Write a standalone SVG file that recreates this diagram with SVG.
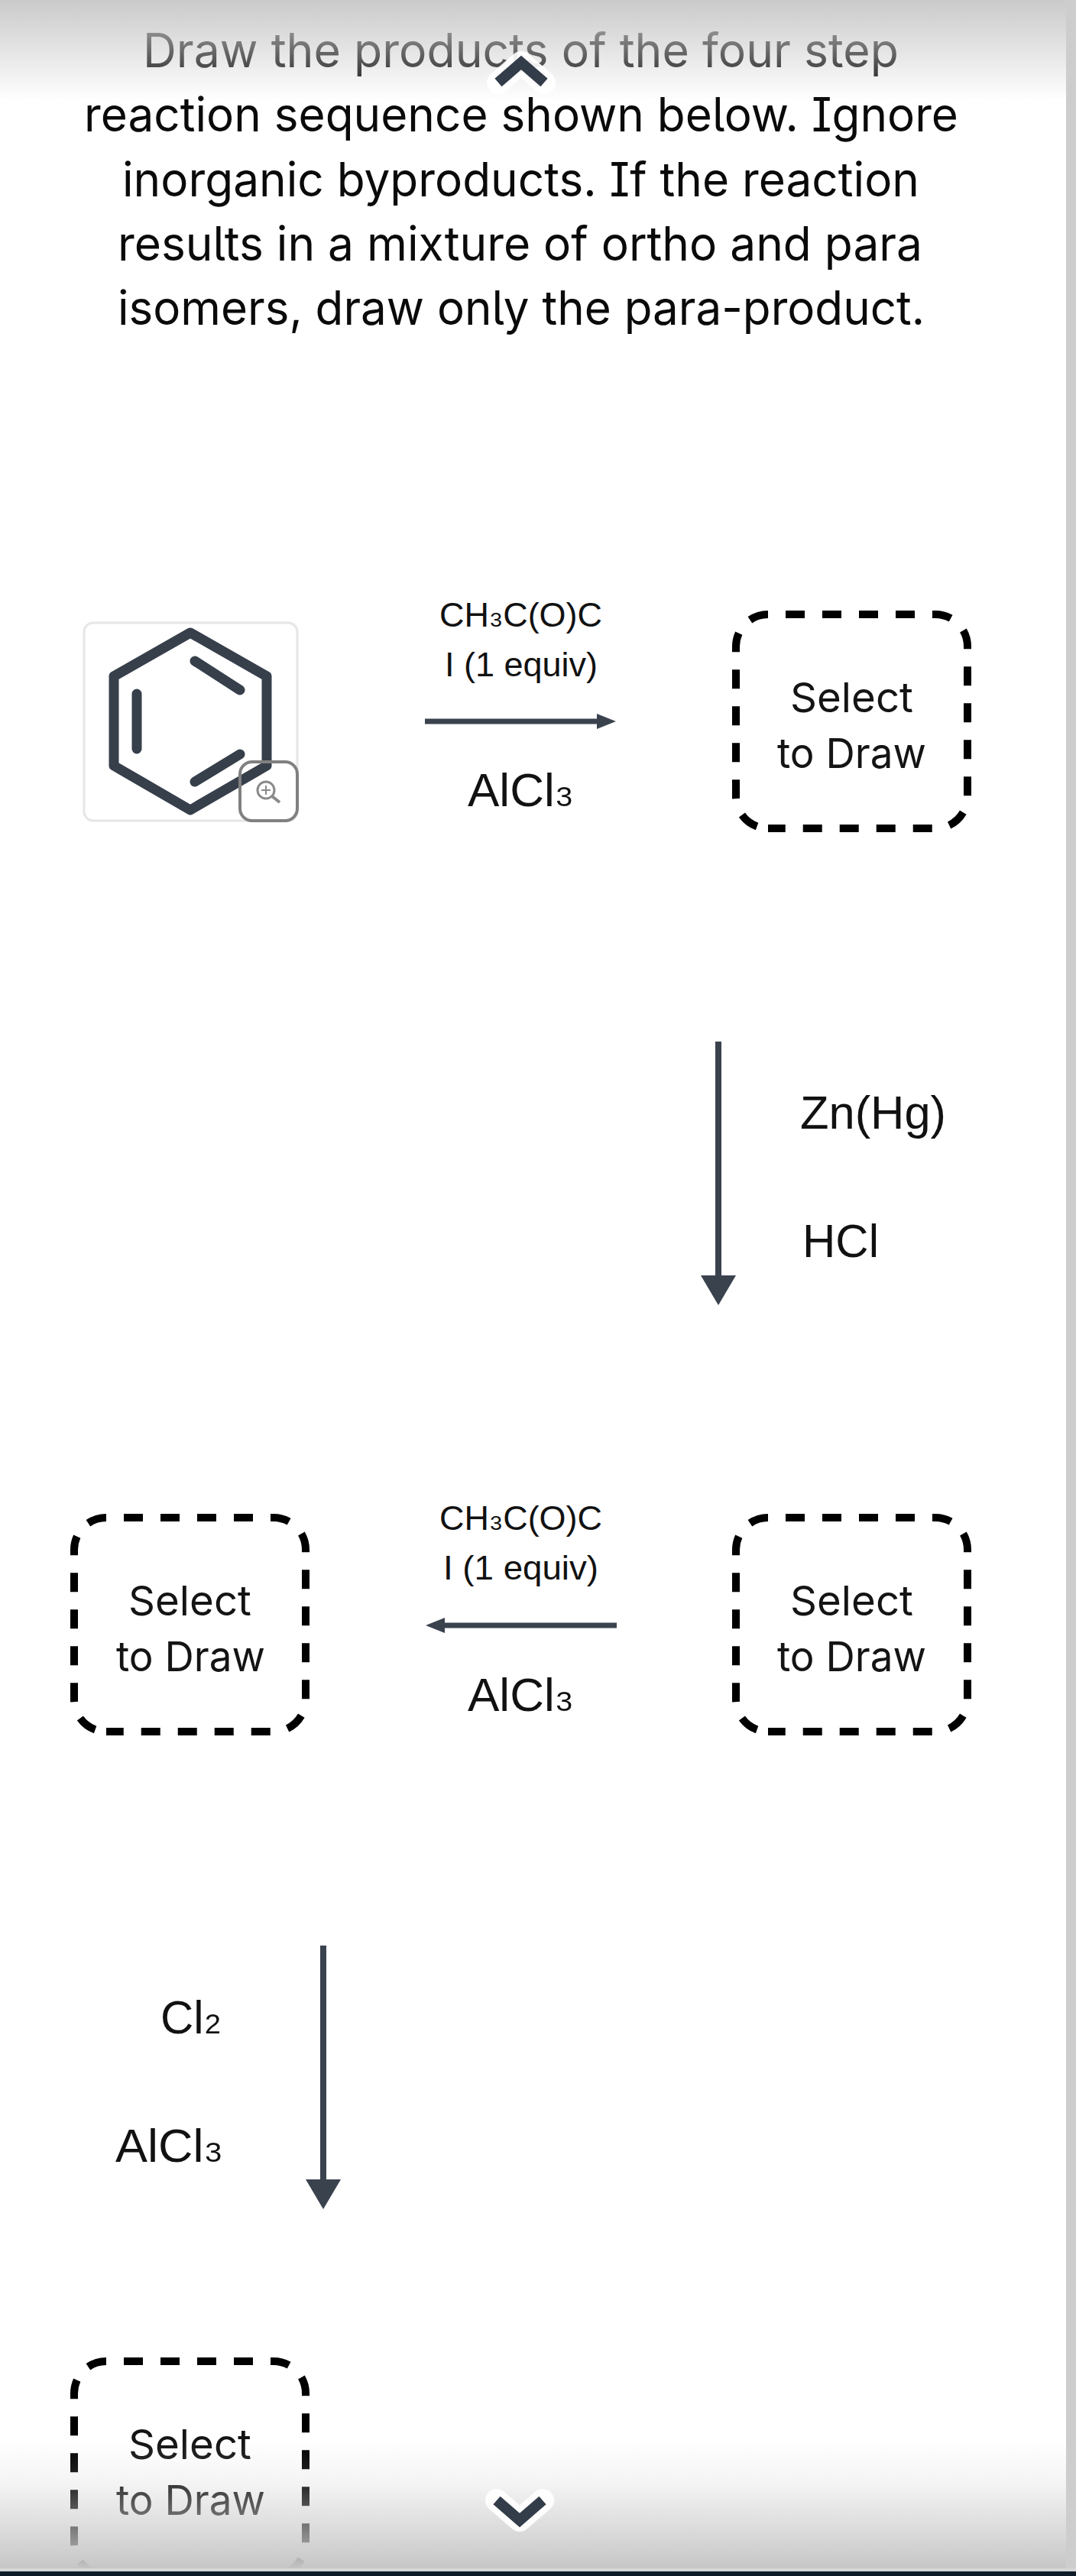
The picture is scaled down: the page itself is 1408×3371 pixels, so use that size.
<svg xmlns="http://www.w3.org/2000/svg" width="1408" height="3371" viewBox="0 0 1408 3371">
<style>
.title{font-family:"Inter","Liberation Sans",sans-serif;font-size:62px;fill:#0a0a0a;font-feature-settings:"ss02"}
.sel{font-family:"Inter","Liberation Sans",sans-serif;font-size:54px;fill:#141414}
.rg{font-family:"Liberation Sans","DejaVu Sans",sans-serif;fill:#111}
.s43{font-size:44px}.s60{font-size:62px}
.dash{fill:none;stroke:#000;stroke-width:10;stroke-dasharray:25 23}
.wire{fill:none;stroke:#3a424e}
.chev{fill:none;stroke:#333c49;stroke-width:14;stroke-linejoin:miter}
.halo{fill:none;stroke:#fff;stroke-opacity:.9;stroke-width:30;stroke-linejoin:round;stroke-linecap:round}
.bond{fill:none;stroke:#373f4b;stroke-width:13;stroke-linecap:round;stroke-linejoin:round}
</style>
<defs>
<linearGradient id="topShade" x1="0" y1="0" x2="0" y2="1">
<stop offset="0" stop-color="#cacaca" stop-opacity="1"/><stop offset="1" stop-color="#cacaca" stop-opacity="0"/>
</linearGradient>
<linearGradient id="botShade" gradientUnits="userSpaceOnUse" x1="0" y1="3193" x2="0" y2="3362">
<stop offset="0" stop-color="#c6c6c6" stop-opacity="0"/><stop offset=".34" stop-color="#c6c6c6" stop-opacity=".2"/><stop offset="1" stop-color="#c6c6c6" stop-opacity="1"/>
</linearGradient>
<marker id="headS" markerUnits="userSpaceOnUse" markerWidth="26" markerHeight="20" refX="0" refY="10" orient="auto"><path d="M0 0L25 10L0 20Z" fill="#3a424e"/></marker>
<marker id="headL" markerUnits="userSpaceOnUse" markerWidth="40" markerHeight="46" refX="0" refY="23" orient="auto"><path d="M0 0L39 23L0 46Z" fill="#3a424e"/></marker>
<g id="dashBox">
<path class="dash" stroke-dashoffset="25" d="M42 0H261A42 42 0 0 1 303 42V238A42 42 0 0 1 261 280H42"/>
<path class="dash" d="M42 0A42 42 0 0 0 0 42V238A42 42 0 0 0 42 280"/>
</g>
</defs>
<rect id="background" width="1408" height="3371" fill="#fff"/>
<g id="prompt" class="title">
<text x="187" y="88" textLength="989" lengthAdjust="spacingAndGlyphs">Draw the products of the four step</text>
<text x="110" y="172" textLength="1144" lengthAdjust="spacingAndGlyphs">reaction sequence shown below. Ignore</text>
<text x="160" y="257" textLength="1043" lengthAdjust="spacingAndGlyphs">inorganic byproducts. If the reaction</text>
<text x="154" y="341" textLength="1053" lengthAdjust="spacingAndGlyphs">results in a mixture of ortho and para</text>
<text x="154" y="425" textLength="1056" lengthAdjust="spacingAndGlyphs">isomers, draw only the para-product.</text>
</g>
<g id="benzene">
<rect x="110" y="815" width="279" height="259" rx="12" fill="#fff" stroke="#e6e6e6" stroke-width="3"/>
<path class="bond" stroke-linecap="butt" stroke-linejoin="miter" d="M249 828L349 885V1002L249 1060L149 1002V885Z"/>
<path class="bond" stroke-width="11" d="M179 908V980M255 865L314 903M255 1023L314 987"/>
<rect x="314" y="997" width="75" height="77" rx="16" fill="none" stroke="#808080" stroke-width="4"/>
<circle cx="348" cy="1034" r="11" fill="none" stroke="#8a8a8a" stroke-width="3"/>
<path d="M356 1042L366 1050" fill="none" stroke="#8a8a8a" stroke-width="4"/>
<path d="M342 1034H354M348 1028V1040" fill="none" stroke="#8a8a8a" stroke-width="2"/>
</g>
<g id="connectors">
<path class="wire" stroke-width="7" d="M556 944H781" marker-end="url(#headS)"/>
<path class="wire" stroke-width="8" d="M940 1363V1669" marker-end="url(#headL)"/>
<path class="wire" stroke-width="7" d="M807 2127H582" marker-end="url(#headS)"/>
<path class="wire" stroke-width="8" d="M423 2546V2852" marker-end="url(#headL)"/>
</g>
<g id="step1-reagents" class="rg">
<text class="s43" x="575" y="820" textLength="213" lengthAdjust="spacingAndGlyphs">CH<tspan dy="-4">₃</tspan><tspan dy="4">C(O)C</tspan></text>
<text class="s43" x="582" y="885" textLength="200" lengthAdjust="spacingAndGlyphs">I (1 equiv)</text>
<text class="s60" x="612" y="1055" textLength="139" lengthAdjust="spacingAndGlyphs">AlCl<tspan dy="-5">₃</tspan></text>
</g>
<g id="step2-reagents" class="rg">
<text class="s60" x="1047" y="1477" textLength="191" lengthAdjust="spacingAndGlyphs">Zn(Hg)</text>
<text class="s60" x="1050" y="1645" textLength="100" lengthAdjust="spacingAndGlyphs">HCl</text>
</g>
<g id="step3-reagents" class="rg">
<text class="s43" x="575" y="2002" textLength="213" lengthAdjust="spacingAndGlyphs">CH<tspan dy="-4">₃</tspan><tspan dy="4">C(O)C</tspan></text>
<text class="s43" x="580" y="2067" textLength="203" lengthAdjust="spacingAndGlyphs">I (1 equiv)</text>
<text class="s60" x="612" y="2239" textLength="139" lengthAdjust="spacingAndGlyphs">AlCl<tspan dy="-5">₃</tspan></text>
</g>
<g id="step4-reagents" class="rg">
<text class="s60" x="210" y="2661" textLength="80" lengthAdjust="spacingAndGlyphs">Cl<tspan dy="-5">₂</tspan></text>
<text class="s60" x="151" y="2829" textLength="141" lengthAdjust="spacingAndGlyphs">AlCl<tspan dy="-5">₃</tspan></text>
</g>
<g id="product1">
<use href="#dashBox" x="963" y="804"/>
<text class="sel" x="1034" y="932" textLength="161" lengthAdjust="spacingAndGlyphs">Select</text>
<text class="sel" x="1017" y="1005" textLength="195" lengthAdjust="spacingAndGlyphs">to Draw</text>
</g>
<g id="product2">
<use href="#dashBox" x="963" y="1986"/>
<text class="sel" x="1034" y="2114" textLength="161" lengthAdjust="spacingAndGlyphs">Select</text>
<text class="sel" x="1017" y="2187" textLength="195" lengthAdjust="spacingAndGlyphs">to Draw</text>
</g>
<g id="product3">
<use href="#dashBox" x="97" y="1986"/>
<text class="sel" x="168" y="2114" textLength="161" lengthAdjust="spacingAndGlyphs">Select</text>
<text class="sel" x="152" y="2187" textLength="195" lengthAdjust="spacingAndGlyphs">to Draw</text>
</g>
<g id="product4">
<use href="#dashBox" x="97" y="3090"/>
<text class="sel" x="168" y="3218" textLength="161" lengthAdjust="spacingAndGlyphs">Select</text>
<text class="sel" x="152" y="3291" textLength="195" lengthAdjust="spacingAndGlyphs">to Draw</text>
</g>
<rect id="shadeTop" x="0" y="0" width="1408" height="132" fill="url(#topShade)"/>
<rect id="shadeBottom" x="0" y="3193" width="1408" height="169" fill="url(#botShade)"/>
<rect id="scrollbar" x="1395" y="0" width="13" height="3361" fill="#cdcdcd"/>
<rect id="footerEdge" x="0" y="3361" width="1408" height="5" fill="#d6d6d6"/>
<rect id="footer" x="0" y="3365" width="1408" height="6" fill="#0d1c28"/>
<g id="scrollUp">
<path class="halo" d="M652 108L682 82L712 108"/>
<path class="chev" d="M652 108L682 82L712 108"/>
</g>
<g id="scrollDown">
<path class="halo" d="M650 3272L680 3298L710 3272"/>
<path class="chev" d="M650 3272L680 3298L710 3272"/>
</g>
</svg>
